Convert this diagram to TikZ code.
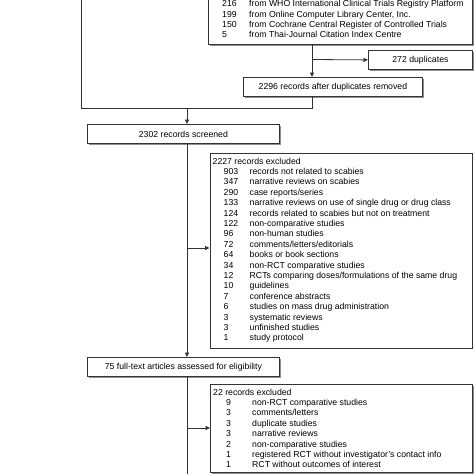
\documentclass[tikz,border=0pt]{standalone}
\usepackage{fontspec}
\setmainfont{Liberation Sans}
\usetikzlibrary{arrows.meta,shadows}
\begin{document}
\begin{tikzpicture}[x=1pt,y=-1pt,
  font=\fontsize{8.7}{10.4}\selectfont,
  line/.style={draw=black!80, line width=0.8pt},
  arr/.style={line, -{Triangle[length=4.5pt,width=4pt]}},
  box/.style={draw=black!80, line width=0.8pt, fill=white, inner sep=0pt, anchor=north west, text=black,
    drop shadow={shadow xshift=1.3pt, shadow yshift=-1.3pt, fill=black!55, opacity=0.8}},
  txt/.style={anchor=base west, inner sep=0pt, text=black},
]
\useasboundingbox (0,0) rectangle (474,474);
\clip (0,0) rectangle (474,474);

% boxes
\node[box, minimum width=264pt, minimum height=104pt] (search) at (208,-60) {};
\node[box, minimum width=104pt, minimum height=19pt] (dup) at (368,50) {272 duplicates};
\node[box, minimum width=179pt, minimum height=19pt] (after) at (243,77) {2296 records after duplicates removed};
\node[box, minimum width=192pt, minimum height=19pt] (screened) at (87,124) {2302 records screened};
\node[box, minimum width=262pt, minimum height=194.5pt] (excla) at (209.5,153) {};
\node[box, minimum width=192pt, minimum height=19pt] (fulltext) at (87,357) {75 full-text articles assessed for eligibility};
\node[box, minimum width=262pt, minimum height=88pt] (exclb) at (210,384) {};

% search box rows
\foreach \n/\t [count=\i from 0] in {216/{from WHO International Clinical Trials Registry Platform},
  199/{from Online Computer Library Center, Inc.},
  150/{from Cochrane Central Register of Controlled Trials},
  5/{from Thai-Journal Citation Index Centre}}{
  \node[txt] (sn\i) at (222,{3.5+10.4*\i+3.1}) {\n};
  \node[txt] (st\i) at (249,{3.5+10.4*\i+3.1}) {\t};
}

% first exclusion box
\node[txt] (ha) at (212.5,{161+3.1}) {2227 records excluded};
\foreach \n/\t [count=\i from 0] in {903/{records not related to scabies},
  347/{narrative reviews on scabies},
  290/{case reports/series},
  133/{narrative reviews on use of single drug or drug class},
  124/{records related to scabies but not on treatment},
  122/{non-comparative studies},
  96/{non-human studies},
  72/{comments/letters/editorials},
  64/{books or book sections},
  34/{non-RCT comparative studies},
  12/{RCTs comparing doses/formulations of the same drug},
  10/{guidelines},
  7/{conference abstracts},
  6/{studies on mass drug administration},
  3/{systematic reviews},
  3/{unfinished studies},
  1/{study protocol}}{
  \node[txt] (an\i) at (223.5,{171.3+10.4*\i+3.1}) {\n};
  \node[txt] (at\i) at (249.5,{171.3+10.4*\i+3.1}) {\t};
}

% second exclusion box
\node[txt] (hb) at (213,{392+3.1}) {22 records excluded};
\foreach \n/\t [count=\i from 0] in {9/{non-RCT comparative studies},
  3/{comments/letters},
  3/{duplicate studies},
  3/{narrative reviews},
  2/{non-comparative studies},
  1/{registered RCT without investigator's contact info},
  1/{RCT without outcomes of interest}}{
  \node[txt] (bn\i) at (226,{402.3+10.4*\i+3.1}) {\n};
  \node[txt] (bt\i) at (252,{402.3+10.4*\i+3.1}) {\t};
}

% connectors
\coordinate (ja) at (312,59.5);
\coordinate (jb) at (312,108);
\coordinate (jc) at (81,108);
\coordinate (leftsrc) at (81,-10);
\coordinate (jd) at (187,108);
\coordinate (je) at (187,248);
\coordinate (jf) at (187,428);
\coordinate (bot) at (187,480);

\draw[arr] (search.south -| ja) -- (after.north -| ja);
\draw[arr] (ja) -- (dup.west);
\draw[line] (leftsrc) -- (jc) -- (jb) -- (after.south -| jb);
\draw[arr] (jd) -- (screened.north -| jd);
\draw[arr] (screened.south -| je) -- (fulltext.north -| je);
\draw[arr] (je) -- (excla.west |- je);
\draw[line] (fulltext.south -| jf) -- (bot);
\draw[arr] (jf) -- (exclb.west |- jf);
\end{tikzpicture}
\end{document}
